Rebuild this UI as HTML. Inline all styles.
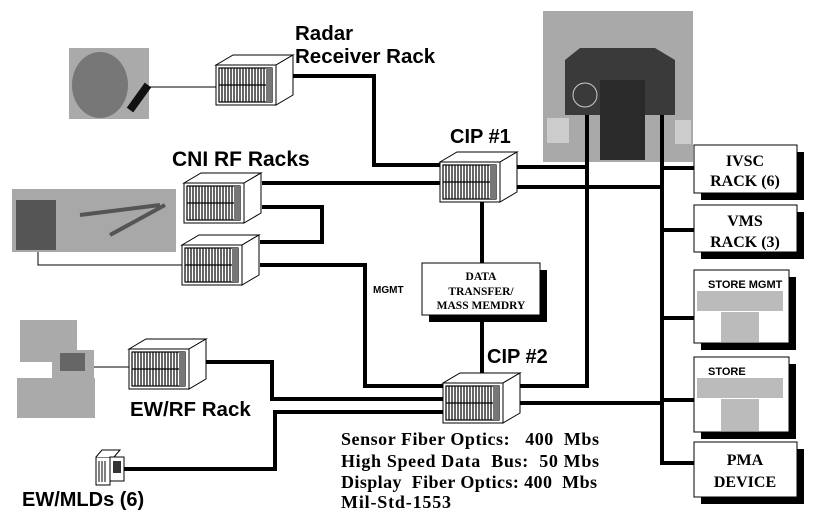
<!DOCTYPE html>
<html><head><meta charset="utf-8"><style>
html,body{margin:0;padding:0;background:#fff;}
svg{display:block;}
.t{font-family:"Liberation Sans",sans-serif;font-weight:bold;fill:#000;}
.s{font-family:"Liberation Serif",serif;font-weight:bold;fill:#000;}
</style></head><body>
<svg width="814" height="517" viewBox="0 0 814 517" xmlns="http://www.w3.org/2000/svg">
<defs>
<g id="rack">
 <polygon points="0,10 17,0 77,0 60,10" fill="#fff" stroke="#000" stroke-width="1"/>
 <polygon points="60,10 77,0 77,40 60,50" fill="#fff" stroke="#000" stroke-width="1"/>
 <rect x="0" y="10" width="60" height="40" fill="#fff" stroke="#000" stroke-width="1"/>
 <rect x="3" y="13" width="53" height="34" fill="none" stroke="#000" stroke-width="1.2"/>
 <path d="M6,13V47M9,13V47M12,13V47M15,13V47M18,13V47M21,13V47M24,13V47M27,13V47M30,13V47M33,13V47M36,13V47M39,13V47M42,13V47M45,13V47M48,13V47M51,13V47M3,30H56" stroke="#000" stroke-width="1.2"/>
 <rect x="50" y="13" width="6" height="34" fill="#777"/>
</g>
</defs>

<rect x="69" y="48" width="80" height="71" fill="#aaa"/>
<ellipse cx="100" cy="85" rx="28" ry="33" fill="#777"/>
<path d="M130,110 L148,85" stroke="#111" stroke-width="8"/>
<rect x="12" y="189" width="164" height="63" fill="#a8a8a8"/>
<rect x="16" y="200" width="40" height="50" fill="#555"/>
<path d="M80,215 L160,205 M110,235 L165,205" stroke="#555" stroke-width="4"/>
<rect x="20" y="320" width="57" height="42" fill="#aaa"/>
<rect x="52" y="350" width="42" height="32" fill="#aaa"/>
<rect x="17" y="378" width="78" height="40" fill="#aaa"/>
<rect x="60" y="353" width="25" height="18" fill="#666"/>

<rect x="543" y="11" width="150" height="151" fill="#a9a9a9"/>
<path d="M565,115 L565,60 L580,48 L655,48 L675,60 L675,115 Z" fill="#3a3a3a"/>
<rect x="600" y="80" width="45" height="80" fill="#2a2a2a"/>
<circle cx="585" cy="95" r="12" fill="none" stroke="#ccc"/>
<rect x="547" y="118" width="22" height="25" fill="#ccc"/>
<rect x="675" y="120" width="16" height="24" fill="#ccc"/>

<g stroke="#000" stroke-width="4" fill="none">
 <path d="M292,76 H374 V165 H440"/>
 <path d="M262,183 H440"/>
 <path d="M262,207 H322 V242 H260"/>
 <path d="M260,265 H365 V386 H443"/>
 <path d="M206,362 H272 V399 H443"/>
 <path d="M443,412 H275 V469 H112"/>
 <path d="M517,167 H587"/>
 <path d="M517,187 H662"/>
 <path d="M587,115 V386 H520"/>
 <path d="M662,115 V463 H694"/>
 <path d="M520,403 H662"/>
 <path d="M482,202 V263 M482,322 V383"/>
 <path d="M662,168 H694 M662,230 H694 M662,318 H694 M662,400 H694"/>
</g>
<g stroke="#000" stroke-width="1" fill="none">
 <path d="M149,87 H216"/>
 <path d="M38,252 V265 H182"/>
 <path d="M94,367 H129"/>
</g>

<use href="#rack" x="216" y="55"/>
<use href="#rack" x="440" y="152"/>
<use href="#rack" x="443" y="373"/>
<use href="#rack" x="184" y="173"/>
<use href="#rack" x="182" y="235"/>
<use href="#rack" x="129" y="339"/>

<rect x="96" y="457" width="14" height="28" fill="#fff" stroke="#000"/>
<path d="M96,457 L102,450 L120,450 L114,457" fill="#fff" stroke="#000"/>
<rect x="110" y="457" width="14" height="24" fill="#fff" stroke="#000"/>
<rect x="113" y="461" width="8" height="12" fill="#333"/>
<path d="M99,461V482M102,461V482M105,461V482" stroke="#000"/>

<rect x="429" y="270" width="118" height="52" fill="#000"/>
<rect x="422" y="263" width="118" height="52" fill="#fff" stroke="#000"/>
<text class="s" x="481" y="280" font-size="11.5" text-anchor="middle">DATA</text>
<text class="s" x="481" y="295" font-size="11.5" text-anchor="middle">TRANSFER/</text>
<text class="s" x="481" y="309" font-size="11.5" text-anchor="middle">MASS MEMDRY</text>

<g>
 <rect x="701" y="152" width="103" height="48" fill="#000"/>
 <rect x="694" y="145" width="103" height="48" fill="#fff" stroke="#000"/>
 <text class="s" x="745" y="166" font-size="16" text-anchor="middle">IVSC</text>
 <text class="s" x="745" y="186" font-size="16" text-anchor="middle">RACK (6)</text>
 <rect x="701" y="212" width="103" height="47" fill="#000"/>
 <rect x="694" y="205" width="103" height="47" fill="#fff" stroke="#000"/>
 <text class="s" x="745" y="226" font-size="16" text-anchor="middle">VMS</text>
 <text class="s" x="745" y="247" font-size="16" text-anchor="middle">RACK (3)</text>
 <rect x="701" y="277" width="95" height="73" fill="#000"/>
 <rect x="694" y="270" width="95" height="73" fill="#fff" stroke="#000"/>
 <text class="t" x="708" y="288" font-size="11">STORE MGMT</text>
 <rect x="697" y="291" width="86" height="20" fill="#bbb"/>
 <rect x="721" y="312" width="38" height="30" fill="#bbb"/>
 <rect x="701" y="364" width="95" height="75" fill="#000"/>
 <rect x="694" y="357" width="95" height="75" fill="#fff" stroke="#000"/>
 <text class="t" x="708" y="375" font-size="11">STORE</text>
 <rect x="697" y="378" width="86" height="20" fill="#bbb"/>
 <rect x="721" y="399" width="38" height="32" fill="#bbb"/>
 <rect x="701" y="449" width="103" height="55" fill="#000"/>
 <rect x="694" y="442" width="103" height="55" fill="#fff" stroke="#000"/>
 <text class="s" x="745" y="465" font-size="16" text-anchor="middle">PMA</text>
 <text class="s" x="745" y="487" font-size="16" text-anchor="middle">DEVICE</text>
</g>

<text class="t" x="295" y="40" font-size="20.5">Radar</text>
<text class="t" x="295" y="63" font-size="20.5">Receiver Rack</text>
<text class="t" x="450" y="143" font-size="20">CIP #1</text>
<text class="t" x="172" y="166" font-size="21">CNI RF Racks</text>
<text class="t" x="487" y="363" font-size="20">CIP #2</text>
<text class="t" x="130" y="416" font-size="20.5">EW/RF Rack</text>
<text class="t" x="22" y="506" font-size="20">EW/MLDs (6)</text>
<text class="t" x="373" y="293" font-size="10">MGMT</text>
<text class="s" x="341" y="445" font-size="18" textLength="258" lengthAdjust="spacing" xml:space="preserve">Sensor Fiber Optics:   400  Mbs</text>
<text class="s" x="341" y="467" font-size="18" textLength="258" lengthAdjust="spacing" xml:space="preserve">High Speed Data  Bus:  50 Mbs</text>
<text class="s" x="341" y="488" font-size="18" textLength="256" lengthAdjust="spacing" xml:space="preserve">Display  Fiber Optics: 400  Mbs</text>
<text class="s" x="341" y="508" font-size="18" textLength="110" lengthAdjust="spacing">Mil-Std-1553</text>
</svg>
</body></html>
